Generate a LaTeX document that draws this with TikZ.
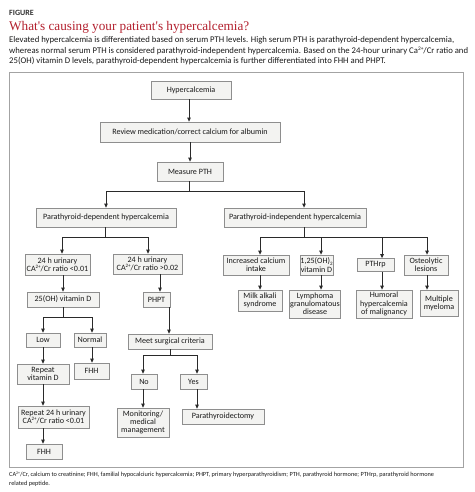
\documentclass[tikz,border=0pt]{standalone}
\usepackage{fontspec}
\setmainfont{Carlito}
\newfontfamily\titlefont{Liberation Serif}
\usetikzlibrary{arrows.meta}
\definecolor{titlered}{HTML}{B3202E}
\definecolor{boxfill}{HTML}{F3F3F1}
\definecolor{boxline}{HTML}{8E8E8E}
\definecolor{linecol}{HTML}{2A2A2A}
\definecolor{framecol}{HTML}{A3A3A3}
\definecolor{txt}{HTML}{1A1A1A}
\newcommand\mybx[6]{\node[bx, minimum width=#4pt, minimum height=#5pt] (#1) at (#2,#3) {#6};}
\newcommand\twoplus{\raisebox{0.75ex}{\scalebox{0.62}{2+}}}
\newcommand\subtwo{\raisebox{-0.35ex}{\scalebox{0.62}{2}}}
\begin{document}
\begin{tikzpicture}[x=1pt,y=-1pt,
  bx/.style={draw=boxline, fill=boxfill, line width=0.8pt, inner sep=0.5pt, align=center,
    font=\fontsize{8.1}{8.2}\selectfont, text=txt},
  arr/.style={draw=linecol, line width=0.9pt, -{Triangle[length=4pt,width=3.6pt]}},
  ln/.style={draw=linecol, line width=0.9pt},
  capt/.style={anchor=base west, inner sep=0pt, text=txt}]
\useasboundingbox (0,0) rectangle (474,492);
\fill[white] (0,0) rectangle (474,492);
% header
\node[capt, font=\fontsize{8}{9}\selectfont\bfseries, text=black!80] (fig) at (9,15.5) {FIGURE};
\node[capt, font=\titlefont\fontsize{13.2}{14}\selectfont, text=titlered] (title) at (9,31) {What's causing your patient's hypercalcemia?};
\node[capt, font=\fontsize{8.7}{10}\selectfont] (c1) at (9,43) {Elevated hypercalcemia is differentiated based on serum PTH levels. High serum PTH is parathyroid-dependent hypercalcemia,};
\node[capt, font=\fontsize{8.7}{10}\selectfont] (c2) at (9,53.5) {whereas normal serum PTH is considered parathyroid-independent hypercalcemia. Based on the 24-hour urinary Ca\twoplus/Cr ratio and};
\node[capt, font=\fontsize{8.7}{10}\selectfont] (c3) at (9,64) {25(OH) vitamin D levels, parathyroid-dependent hypercalcemia is further differentiated into FHH and PHPT.};
% frame
\draw[framecol, line width=1pt] (9.5,73) rectangle (463,467);
% footer
\node[capt, font=\fontsize{6.3}{7}\selectfont] (f1) at (9,476.5) {CA\twoplus/Cr, calcium to creatinine; FHH, familial hypocalciuric hypercalcemia; PHPT, primary hyperparathyroidism; PTH, parathyroid hormone; PTHrp, parathyroid hormone};
\node[capt, font=\fontsize{6.3}{7}\selectfont] (f2) at (9,485.5) {related peptide.};
% boxes
\mybx{hyp}{191}{90}{80}{18}{Hypercalcemia}
\mybx{rev}{190}{132}{180}{20}{Review medication/correct calcium for albumin}
\mybx{pth}{190}{171.5}{66}{19}{Measure PTH}
\mybx{dep}{106}{217.5}{140}{19}{Parathyroid-dependent hypercalcemia}
\mybx{ind}{295}{217.5}{142}{19}{Parathyroid-independent hypercalcemia}
\mybx{lo}{57.5}{264.5}{65}{21}{24 h urinary\\CA\twoplus/Cr ratio <0.01}
\mybx{hi}{147.5}{264}{69}{20}{24 h urinary\\CA\twoplus/Cr ratio >0.02}
\mybx{vitd}{63}{299.5}{72}{15}{25(OH) vitamin D}
\mybx{phpt}{156.5}{299.5}{27}{15}{PHPT}
\mybx{low}{43}{340}{34}{14}{Low}
\mybx{norm}{90}{340}{32}{14}{Normal}
\mybx{meet}{170}{341.5}{84}{15}{Meet surgical criteria}
\mybx{rvd}{43}{374}{52}{20}{Repeat\\vitamin D}
\mybx{fhha}{91.5}{371}{35}{16}{FHH}
\mybx{rtf}{53.5}{417}{71}{22}{Repeat 24 h urinary\\CA\twoplus/Cr ratio <0.01}
\mybx{fhhb}{44}{451.5}{36}{15}{FHH}
\mybx{no}{144}{381.5}{26}{15}{No}
\mybx{yes}{193.5}{381.5}{27}{15}{Yes}
\mybx{mon}{143}{422.5}{52}{29}{Monitoring/\\medical\\management}
\mybx{ptx}{223}{416.5}{82}{15}{Parathyroidectomy}
\mybx{inc}{256}{265}{66}{20}{Increased calcium\\intake}
\mybx{dvd}{316.5}{265}{31}{20}{1,25(OH)\subtwo\\vitamin D}
\mybx{pthrp}{375.5}{265}{37}{13}{PTHrp}
\mybx{ost}{426}{265}{44}{20}{Osteolytic\\lesions}
\mybx{milk}{260}{300.5}{44}{21}{Milk alkali\\syndrome}
\mybx{lym}{315}{304}{46}{28}{Lymphoma\\granulomatous\\disease}
\mybx{hum}{384}{304}{56}{28}{Humoral\\hypercalcemia\\of malignancy}
\mybx{mye}{439}{303}{38}{26}{Multiple\\myeloma}
% junctions
\coordinate (j1) at (189,191);
\coordinate (j2) at (105,237);
\coordinate (j3) at (63,317);
\coordinate (j4) at (170,355);
\coordinate (j5) at (304,237);
% connectors
\draw[arr] (hyp.south -| 189,0) -- (rev.north -| 189,0);
\draw[arr] (rev.south -| 190,0) -- (pth.north -| 190,0);
\draw[ln] (pth.south -| j1) -- (j1);
\draw[arr] (j1) -| (dep.north);
\draw[arr] (j1) -| (ind.north -| 304,0);
\draw[ln] (dep.south -| j2) -- (j2);
\draw[arr] (j2) -| (lo.north -| 62,0);
\draw[arr] (j2) -| (hi.north -| 148,0);
\draw[arr] (lo.south -| 63,0) -- (vitd.north -| 63,0);
\draw[arr] (hi.south -| 160,0) -- (phpt.north -| 160,0);
\draw[arr] (phpt.south -| 169,0) -- (meet.north -| 169,0);
\draw[ln] (vitd.south -| j3) -- (j3);
\draw[arr] (j3) -| (low.north);
\draw[arr] (j3) -| (norm.north -| 92,0);
\draw[arr] (low.south) -- (rvd.north);
\draw[arr] (norm.south -| 92,0) -- (fhha.north -| 92,0);
\draw[arr] (rvd.south) -- (rtf.north -| rvd.south);
\draw[arr] (rtf.south -| 43,0) -- (fhhb.north -| 43,0);
\draw[ln] (meet.south -| j4) -- (j4);
\draw[arr] (j4) -| (no.north -| 143,0);
\draw[arr] (j4) -| (yes.north -| 197,0);
\draw[arr] (no.south -| 143,0) -- (mon.north -| 143,0);
\draw[arr] (yes.south -| 197,0) -- (ptx.north -| 197,0);
\draw[ln] (ind.south -| j5) -- (j5);
\draw[arr] (j5) -| (inc.north -| 260,0);
\draw[arr] (j5) -| (dvd.north -| 321,0);
\draw[arr] (j5) -| (pthrp.north -| 382,0);
\draw[arr] (j5) -| (ost.north -| 427,0);
\draw[arr] (inc.south -| 260,0) -- (milk.north -| 260,0);
\draw[arr] (dvd.south -| 321,0) -- (lym.north -| 321,0);
\draw[arr] (pthrp.south -| 382,0) -- (hum.north -| 382,0);
\draw[arr] (ost.south -| 427,0) -- (mye.north -| 427,0);
\end{tikzpicture}
\end{document}
